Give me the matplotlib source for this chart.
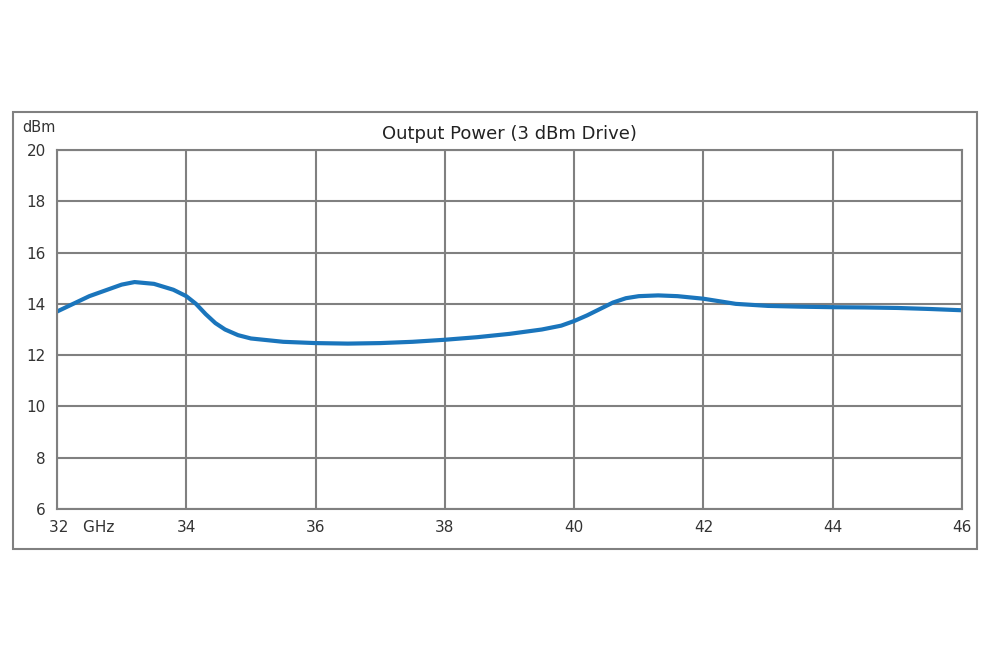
import matplotlib
matplotlib.use("Agg")
import matplotlib.pyplot as plt
from matplotlib.patches import Rectangle

freq = [32, 32.5, 33, 33.2, 33.5, 33.8, 34, 34.15, 34.3, 34.45, 34.6, 34.8, 35, 35.5, 36, 36.5, 37, 37.5, 38, 38.5, 39, 39.5, 39.8, 40, 40.2, 40.4, 40.6, 40.8, 41, 41.3, 41.6, 42, 42.3, 42.5, 43, 43.5, 44, 44.5, 45, 45.5, 46]
power = [13.7, 14.3, 14.75, 14.85, 14.78, 14.55, 14.3, 14.0, 13.6, 13.25, 13.0, 12.78, 12.65, 12.52, 12.47, 12.45, 12.47, 12.52, 12.6, 12.7, 12.83, 13.0, 13.15, 13.33, 13.55, 13.8, 14.05, 14.22, 14.3, 14.33, 14.3, 14.2, 14.08, 14.0, 13.92, 13.89, 13.87, 13.86, 13.84, 13.8, 13.75]
xticks = [32, 34, 36, 38, 40, 42, 44, 46]
yticks = [6, 8, 10, 12, 14, 16, 18, 20]

fig = plt.figure(figsize=(10, 6.67), dpi=100)
fig.patches.append(Rectangle((13/1000, 1-549/667), 964/1000, 437/667, transform=fig.transFigure,
                             fill=False, edgecolor='#808080', linewidth=1.5))
ax = fig.add_axes([57/1000, 1-509/667, 905/1000, 359/667])
ax.plot(freq, power, color='#1a75bc', linewidth=3, solid_capstyle='round', solid_joinstyle='round')
ax.set_xlim(32, 46)
ax.set_ylim(6, 20)
ax.set_xticks(xticks)
ax.set_yticks(yticks)
ax.set_xticklabels(['32   GHz' if t == 32 else str(t) for t in xticks])
for lbl in ax.get_xticklabels():
    if lbl.get_text().startswith('32'):
        lbl.set_horizontalalignment('left')
ax.grid(True, color='#808080', linewidth=1.5)
for s in ax.spines.values():
    s.set_color('#808080'); s.set_linewidth(1.5)
ax.tick_params(length=0, labelsize=11, colors='#333333', pad=8)
ax.get_xticklabels()[0].set_transform(ax.get_xticklabels()[0].get_transform() + matplotlib.transforms.ScaledTranslation(-8/100, 0, fig.dpi_scale_trans))
ax.set_title('Output Power (3 dBm Drive)', fontsize=13, color='#222222', pad=8)
fig.text(22/1000, 1-128/667, 'dBm', fontsize=10.5, color='#333333', va='center')
fig.savefig('out.png', dpi=100)
